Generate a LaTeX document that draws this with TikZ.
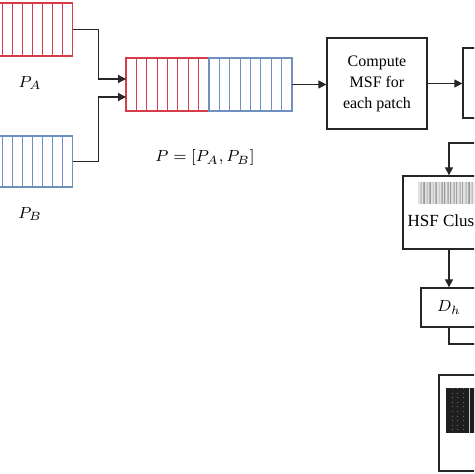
\documentclass[tikz,border=0pt]{standalone}
\usepackage{fontspec}
\setmainfont{Liberation Serif}
\usepackage{xcolor}
\usetikzlibrary{arrows.meta, positioning, calc}
\definecolor{patchred}{RGB}{214,60,74}
\definecolor{patchblue}{RGB}{110,145,192}

\begin{document}
\begin{tikzpicture}[x=0.5pt, y=-0.5pt,
    box/.style={rectangle, draw=black!85, line width=0.65pt, inner sep=0pt, align=center,
      font=\fontsize{8}{10.5}\selectfont},
    patch/.style={rectangle, draw, line width=0.55pt, inner sep=0pt, outer sep=0pt,
      minimum height=26.5pt},
    lbl/.style={font=\fontsize{8.5}{10}\selectfont},
    arrow/.style={line width=0.65pt, draw=black!85, -{Triangle[length=4pt, width=4pt]}}
]
\useasboundingbox (0,0) rectangle (474,474);
\clip (0,0) rectangle (474,474);

% patches
\node[patch, draw=patchred, minimum width=40.4pt]                         (pa)  at (32.3,29.5)  {};
\node[patch, draw=patchblue, minimum width=40.4pt, minimum height=25.5pt] (pb)  at (32.3,161.5) {};
\node[patch, draw=patchred, minimum width=41.5pt]                         (pca) at (167.5,84.5) {};
\node[patch, draw=patchblue, minimum width=41.5pt, right=0pt of pca]      (pcb) {};
\foreach \n/\c in {pa/patchred, pb/patchblue, pca/patchred, pcb/patchblue}
  \foreach \i in {1,...,7}
    \draw[\c, line width=0.5pt] ($(\n.south west)!\i/8!(\n.south east)$) -- ($(\n.north west)!\i/8!(\n.north east)$);
\node[lbl] (pal) at (30,83)   {$P_A$};
\node[lbl] (pbl) at (30,214)  {$P_B$};
\node[lbl] (pl)  at (205,158) {$P=[P_A,P_B]$};

% boxes
\node[box, minimum width=50pt, minimum height=45.5pt] (msf) at (377,83.5)  {Compute\\MSF for\\each patch};
\node[box, minimum width=50pt, minimum height=35pt]   (nxt) at (513,83)    {};
\node[box, minimum width=46pt, minimum height=36.5pt] (hsf) at (449,212.5) {};
\node[box, minimum width=28pt, minimum height=19.5pt] (dh)  at (449,307.5) {$D_h$};
\node[box, minimum width=50pt, minimum height=48pt]   (bot) at (489,423)   {};
\node[box, draw=none, anchor=base west, font=\fontsize{8.5}{10}\selectfont] (hsft) at (407,227) {HSF Clus};

% pictures inside boxes
\fill[gray!22] (418,182) rectangle (480,204);
\foreach \i in {0,...,40} {
  \pgfmathsetmacro\g{int(12+mod(\i*37,30))}
  \draw[black!\g, line width=0.4pt] ({418.5+\i*1.5},182) -- ++(0,22);
}
\fill[black!88] (446,388) rectangle (480,433);
\foreach \x in {452,457,463,469}
  \draw[black!60, line width=0.3pt, dotted] (\x,388) -- ++(0,45);
\draw[gray!45, line width=0.4pt] (469.5,388) -- ++(0,45);

\coordinate (hsfin) at (480,143);
\coordinate (dhout) at (480,344);

\draw[arrow] (pa.east) -- ++(26,0) |- ($(pca.west)+(0,-5.5)$);
\draw[arrow] (pb.east) -- ++(26,0) |- ($(pca.west)+(0,12.5)$);
\draw[arrow] (pcb.east) -- (pcb.east -| msf.west);
\draw[arrow] (msf.east) -- (msf.east -| nxt.west);
\draw[arrow] (hsfin) -| (hsf.north);
\draw[arrow] (hsf.south) -- (dh.north);
\draw[line width=0.65pt, black!85] (dh.south) |- (dhout);
\end{tikzpicture}
\end{document}
